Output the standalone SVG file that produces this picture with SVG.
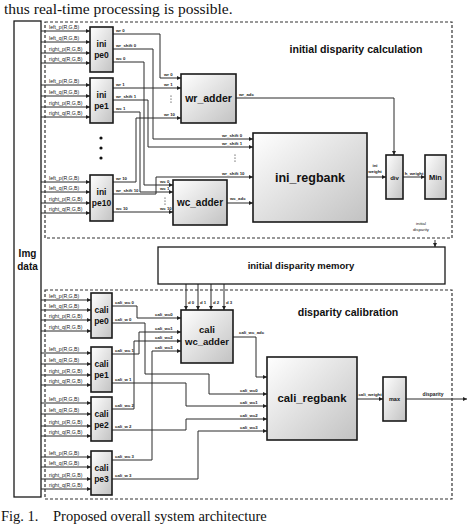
<svg xmlns="http://www.w3.org/2000/svg" width="474" height="528" viewBox="0 0 474 528">
<defs>
<linearGradient id="g" x1="0" y1="0" x2="1" y2="1">
<stop offset="0" stop-color="#ffffff"/>
<stop offset="1" stop-color="#c2c2c2"/>
</linearGradient>
<marker id="ah" viewBox="0 0 6 6" refX="6" refY="3" markerWidth="4" markerHeight="4" orient="auto" markerUnits="userSpaceOnUse">
<path d="M0,0 L6,3 L0,6 z" fill="#222"/>
</marker>
</defs>
<style>
.box{fill:url(#g);stroke:#1a1a1a;stroke-width:1.6}
.plain{fill:#fff;stroke:#1a1a1a;stroke-width:1.3}
.ln{fill:none;stroke:#2a2a2a;stroke-width:1}
.ar{marker-end:url(#ah)}
.dash{fill:none;stroke:#333;stroke-width:1.2;stroke-dasharray:3 2}
.b{font-family:"Liberation Sans",Arial,sans-serif;font-weight:bold;fill:#111;text-anchor:middle}
.s{font-family:"Liberation Sans",Arial,sans-serif;fill:#222;font-size:5.2px}
.xs{font-family:"Liberation Sans",Arial,sans-serif;fill:#222;font-size:4.3px}
.xsb{font-family:"Liberation Sans",Arial,sans-serif;fill:#222;font-size:4.3px;font-weight:bold}
.serif{font-family:"Liberation Serif","Times New Roman",serif;fill:#111}
</style>
<rect width="474" height="528" fill="#fff"/>

<text class="serif" x="4" y="14" font-size="15.5">thus real-time processing is possible.</text>

<!-- frames -->
<g id="frames">
<rect class="dash" x="45" y="22" width="407" height="216"/>
<rect class="dash" x="45" y="290" width="407" height="209"/>
<text class="b" x="356" y="53" font-size="10.6">initial disparity calculation</text>
<text class="b" x="348" y="316" font-size="10.6">disparity calibration</text>
<text class="xs" x="421" y="225" text-anchor="middle">initial</text>
<text class="xs" x="421" y="231" text-anchor="middle">disparity</text>
</g>

<g id="img-data">
<rect x="14" y="21" width="27" height="476" fill="#fff" stroke="#1a1a1a" stroke-width="1.3"/>
<text class="b" x="27.5" y="257" font-size="10">Img</text>
<text class="b" x="27.5" y="270" font-size="10">data</text>
</g>

<!-- connectors -->
<g id="connectors">
<g class="ln ar">
<path d="M41,31H90"/><path d="M41,42H90"/><path d="M41,53H90"/><path d="M41,63H90"/>
<path d="M41,85H90"/><path d="M41,96H90"/><path d="M41,107H90"/><path d="M41,117H90"/>
<path d="M41,182H90"/><path d="M41,192H90"/><path d="M41,203H90"/><path d="M41,213H90"/>
<path d="M41,300H91"/><path d="M41,310H91"/><path d="M41,320H91"/><path d="M41,331H91"/>
<path d="M41,353H91"/><path d="M41,364H91"/><path d="M41,375H91"/><path d="M41,385H91"/>
<path d="M41,403H91"/><path d="M41,414H91"/><path d="M41,426H91"/><path d="M41,436H91"/>
<path d="M41,457H91"/><path d="M41,467H91"/><path d="M41,479H91"/><path d="M41,489H91"/>
<path d="M113,34H160V78H181"/>
<path d="M113,88H181"/>
<path d="M113,182H136V118H181"/>
<path d="M113,49H153V139H253"/>
<path d="M113,100H148V147H253"/>
<path d="M113,194H156V177H253"/>
<path d="M113,62H144V185H173"/>
<path d="M113,112H140V192H173"/>
<path d="M113,212H173"/>
<path d="M227,203H253"/>
<path d="M236,98H394V155"/>
<path d="M367,177H386"/>
<path d="M403,177H425"/>
<path d="M435,240V247"/>
<path d="M186,284V310"/><path d="M198,284V310"/><path d="M211,284V310"/><path d="M224,284V310"/>
<path d="M112,306H137V318H181"/>
<path d="M112,354H139V332H181"/>
<path d="M112,409H134V341H181"/>
<path d="M112,460H152V351H181"/>
<path d="M112,323H145V374H209V394H267"/>
<path d="M112,383H186V406H267"/>
<path d="M112,430H186V419H267"/>
<path d="M112,479H198V431H267"/>
<path d="M233,337H256V377H267"/>
<path d="M357,399H383"/>
<path d="M406,399H467"/>
</g>
</g>

<g id="input-labels" class="s">
<text x="49" y="29">left_p(R,G,B)</text><text x="49" y="40">left_q(R,G,B)</text><text x="49" y="51">right_p(R,G,B)</text><text x="49" y="61">right_q(R,G,B)</text>
<text x="49" y="83">left_p(R,G,B)</text><text x="49" y="94">left_q(R,G,B)</text><text x="49" y="105">right_p(R,G,B)</text><text x="49" y="115">right_q(R,G,B)</text>
<text x="49" y="180">left_p(R,G,B)</text><text x="49" y="190">left_q(R,G,B)</text><text x="49" y="201">right_p(R,G,B)</text><text x="49" y="211">right_q(R,G,B)</text>
<text x="49" y="298">left_p(R,G,B)</text><text x="49" y="308">left_q(R,G,B)</text><text x="49" y="318">right_p(R,G,B)</text><text x="49" y="329">right_q(R,G,B)</text>
<text x="49" y="351">left_p(R,G,B)</text><text x="49" y="362">left_q(R,G,B)</text><text x="49" y="373">right_p(R,G,B)</text><text x="49" y="383">right_q(R,G,B)</text>
<text x="49" y="401">left_p(R,G,B)</text><text x="49" y="412">left_q(R,G,B)</text><text x="49" y="424">right_p(R,G,B)</text><text x="49" y="434">right_q(R,G,B)</text>
<text x="49" y="455">left_p(R,G,B)</text><text x="49" y="465">left_q(R,G,B)</text><text x="49" y="477">right_p(R,G,B)</text><text x="49" y="487">right_q(R,G,B)</text>
</g>

<g id="connector-labels" class="xsb">
<text x="116" y="32">wr 0</text><text x="116" y="47">wr_shift 0</text><text x="116" y="60">wc 0</text>
<text x="116" y="86">wr 1</text><text x="116" y="98">wr_shift 1</text><text x="116" y="110">wc 1</text>
<text x="116" y="180">wr 10</text><text x="116" y="192">wr_shift 10</text><text x="116" y="210">wc 10</text>
<text x="164" y="76">wr 0</text><text x="164" y="86">wr 1</text><text x="164" y="116">wr 10</text>
<text x="222" y="137">wr_shift 0</text><text x="222" y="145">wr_shift 1</text><text x="222" y="175">wr_shift 10</text>
<text x="160" y="183">wc 0</text><text x="160" y="190">wc 1</text><text x="160" y="210">wc 10</text>
<text x="230" y="200">wc_adc</text>
<text x="239" y="96">wr_adc</text>
<text x="375" y="167" text-anchor="middle">ini</text><text x="375" y="173" text-anchor="middle">weight</text>
<text x="414" y="175" text-anchor="middle">h_weight</text>
<text x="188" y="304">d 0</text><text x="200" y="304">d 1</text><text x="213" y="304">d 2</text><text x="226" y="304">d 3</text>
<text x="115" y="304">cali_wc 0</text><text x="115" y="321">cali_w 0</text>
<text x="115" y="352">cali_wc 1</text><text x="115" y="381">cali_w 1</text>
<text x="115" y="407">cali_wc 2</text><text x="115" y="428">cali_w 2</text>
<text x="115" y="458">cali_wc 3</text><text x="115" y="477">cali_w 3</text>
<text x="155" y="316">cali_wc0</text><text x="155" y="330">cali_wc1</text><text x="155" y="339">cali_wc2</text><text x="155" y="349">cali_wc3</text>
<text x="239" y="334">cali_wc_adc</text>
<text x="240" y="392">cali_wc0</text><text x="240" y="404">cali_wc1</text><text x="240" y="417">cali_wc2</text><text x="240" y="429">cali_wc3</text>
<text x="370" y="396" text-anchor="middle">cali_weight</text>
<text x="433" y="396" text-anchor="middle" font-size="5">disparity</text>
</g>

<g id="dots" fill="#111">
<circle cx="101" cy="138" r="1.6"/><circle cx="101" cy="148" r="1.6"/><circle cx="101" cy="158" r="1.6"/>
<circle cx="171" cy="96" r="0.6"/><circle cx="171" cy="99" r="0.6"/><circle cx="171" cy="102" r="0.6"/>
<circle cx="235" cy="155" r="0.6"/><circle cx="235" cy="158" r="0.6"/><circle cx="235" cy="161" r="0.6"/>
<circle cx="165" cy="198" r="0.6"/><circle cx="165" cy="201" r="0.6"/><circle cx="165" cy="204" r="0.6"/>
</g>

<g id="ini-pe0"><rect class="box" x="90" y="27" width="23" height="45"/><text class="b" x="101.5" y="47" font-size="8.5">ini</text><text class="b" x="101.5" y="58" font-size="8.5">pe0</text></g>
<g id="ini-pe1"><rect class="box" x="90" y="78" width="23" height="45"/><text class="b" x="101.5" y="98" font-size="8.5">ini</text><text class="b" x="101.5" y="109" font-size="8.5">pe1</text></g>
<g id="ini-pe10"><rect class="box" x="90" y="175" width="23" height="46"/><text class="b" x="101.5" y="195" font-size="8.5">ini</text><text class="b" x="101.5" y="206" font-size="8.5">pe10</text></g>
<g id="wr-adder"><rect class="box" x="181" y="74" width="55" height="49"/><text class="b" x="208.5" y="102" font-size="10.5">wr_adder</text></g>
<g id="wc-adder"><rect class="box" x="173" y="180" width="54" height="45"/><text class="b" x="200" y="206" font-size="10">wc_adder</text></g>
<g id="ini-regbank"><rect class="box" x="253" y="133" width="114" height="89"/><text class="b" x="310" y="182" font-size="12.5">ini_regbank</text></g>
<g id="div"><rect class="box" x="386" y="155" width="17" height="44"/><text class="b" x="394.5" y="180" font-size="6">div</text></g>
<g id="min"><rect class="box" x="425" y="155" width="21" height="44"/><text class="b" x="435.5" y="180" font-size="7.5">Min</text></g>
<g id="memory"><rect class="plain" x="158" y="247" width="287" height="37"/><text class="b" x="301" y="269" font-size="9.5">initial disparity memory</text></g>
<g id="cali-pe0"><rect class="box" x="91" y="293" width="21" height="45"/><text class="b" x="101.5" y="313" font-size="8.5">cali</text><text class="b" x="101.5" y="324" font-size="8.5">pe0</text></g>
<g id="cali-pe1"><rect class="box" x="91" y="347" width="21" height="45"/><text class="b" x="101.5" y="367" font-size="8.5">cali</text><text class="b" x="101.5" y="378" font-size="8.5">pe1</text></g>
<g id="cali-pe2"><rect class="box" x="91" y="397" width="21" height="44"/><text class="b" x="101.5" y="417" font-size="8.5">cali</text><text class="b" x="101.5" y="428" font-size="8.5">pe2</text></g>
<g id="cali-pe3"><rect class="box" x="91" y="451" width="21" height="44"/><text class="b" x="101.5" y="471" font-size="8.5">cali</text><text class="b" x="101.5" y="482" font-size="8.5">pe3</text></g>
<g id="cali-wc-adder"><rect class="box" x="181" y="310" width="52" height="53"/><text class="b" x="207" y="333" font-size="9.5">cali</text><text class="b" x="207" y="345" font-size="9.5">wc_adder</text></g>
<g id="cali-regbank"><rect class="box" x="267" y="357" width="90" height="83"/><text class="b" x="312" y="402" font-size="11.3">cali_regbank</text></g>
<g id="max"><rect class="box" x="383" y="377" width="23" height="44"/><text class="b" x="394.5" y="401" font-size="5.5">max</text></g>

<g class="serif" font-size="14.5">
<text x="1" y="521">Fig. 1.</text>
<text x="53" y="521">Proposed overall system architecture</text>
</g>
</svg>
